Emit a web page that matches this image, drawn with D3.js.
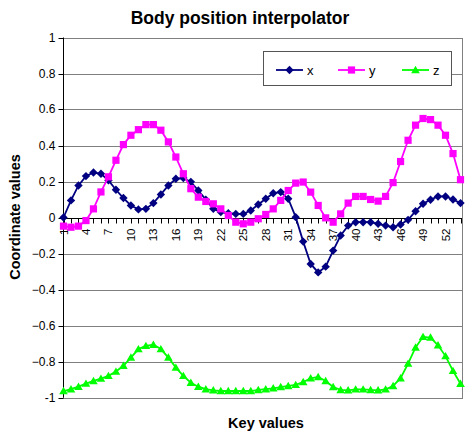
<!DOCTYPE html>
<html><head><meta charset="utf-8">
<script src="https://cdn.jsdelivr.net/npm/d3@7"></script>
<style>
html,body{margin:0;padding:0;background:#fff;}
svg{display:block;font-family:"Liberation Sans",Arial,sans-serif;}
</style></head>
<body><svg id="c" width="474" height="438"></svg>
<script>
const keys = [1,2,3,4,5,6,7,8,9,10,11,12,13,14,15,16,17,18,19,20,21,22,23,24,25,26,27,
  28,29,30,31,32,33,34,35,36,37,38,39,40,41,42,43,44,45,46,47,48,49,50,51,52,53,54];
const tickLabels = [1,4,7,10,13,16,19,22,25,28,31,34,37,40,43,46,49,52];
const yTicks = [1,0.8,0.6,0.4,0.2,0,-0.2,-0.4,-0.6,-0.8,-1];
const xVals = [0,0.095,0.178,0.23,0.25,0.243,0.206,0.154,0.108,0.067,0.045,0.048,0.08,0.128,
  0.178,0.215,0.219,0.198,0.15,0.099,0.048,0.03,0.024,0.02,0.02,0.039,0.072,0.104,0.135,0.141,
  0.104,0.002,-0.134,-0.258,-0.305,-0.273,-0.184,-0.1,-0.045,-0.026,-0.026,-0.026,-0.035,-0.045,
  -0.054,-0.039,-0.013,0.035,0.076,0.099,0.117,0.117,0.1,0.08];
const yVals = [-0.048,-0.054,-0.048,-0.017,0.048,0.142,0.226,0.318,0.405,0.457,0.488,0.516,0.516,
  0.485,0.42,0.336,0.243,0.16,0.113,0.089,0.076,0.048,0.011,-0.026,-0.035,-0.026,-0.007,0.017,
  0.048,0.095,0.15,0.191,0.197,0.141,0.067,-0.002,-0.026,0.02,0.08,0.117,0.117,0.1,0.091,0.117,
  0.194,0.311,0.429,0.513,0.55,0.544,0.513,0.457,0.355,0.21];
const zVals = [-0.964,-0.954,-0.94,-0.923,-0.908,-0.895,-0.88,-0.856,-0.824,-0.778,-0.731,-0.713,
  -0.707,-0.731,-0.778,-0.834,-0.88,-0.918,-0.94,-0.954,-0.96,-0.964,-0.964,-0.964,-0.964,-0.964,
  -0.958,-0.954,-0.949,-0.942,-0.936,-0.93,-0.914,-0.893,-0.886,-0.908,-0.942,-0.958,-0.96,-0.955,
  -0.955,-0.958,-0.96,-0.955,-0.936,-0.893,-0.812,-0.722,-0.663,-0.667,-0.71,-0.77,-0.852,-0.924];
const seriesNames = ["x","y","z"];
const seriesColors = ["#000080","#ff00ff","#00ff00"];

const svg = d3.select("#c");
const L = 63, R = 462, T = 37.5, B = 397.5;
const x = d3.scaleLinear().domain([1,54]).range([63.5,460.5]);
const y = d3.scaleLinear().domain([-1,1]).range([B,T]);

// gridlines
svg.append("g").selectAll("line").data(yTicks.filter(v=>v!==0)).join("line")
  .attr("x1",L).attr("x2",R).attr("y1",d=>Math.round(y(d))+0.5).attr("y2",d=>Math.round(y(d))+0.5)
  .attr("stroke","#808080").attr("stroke-width",1);
// frame right/top/bottom
svg.append("rect").attr("x",L+0.5).attr("y",Math.round(T)+0.5).attr("width",R-L)
  .attr("height",Math.round(B)-Math.round(T)).attr("fill","none").attr("stroke","#808080");

// y axis
const yAxis = d3.axisLeft(y).tickValues(yTicks).tickSize(5).tickPadding(3)
  .tickFormat(d=>d===0?"0":(d===1||d===-1)?String(d):d3.format(".1f")(d));
const gy = svg.append("g").attr("transform",`translate(${L+0.5},0)`).call(yAxis);
gy.selectAll("path").attr("stroke","#000").attr("d",`M0,${y(1)}V${y(-1)}`);
gy.selectAll("line").attr("stroke","#000");
gy.selectAll("text").attr("font-size",12).attr("fill","#000")
  .attr("font-family","Liberation Sans, Arial, sans-serif");
gy.selectAll(".tick").attr("transform",d=>`translate(0,${Math.round(y(d))+0.5})`);

// x axis at y=0
const gx = svg.append("g").attr("transform",`translate(0,${Math.round(y(0))+0.5})`);
gx.append("line").attr("x1",L).attr("x2",R).attr("stroke","#000");
gx.selectAll("line.t").data(keys).join("line").attr("class","t")
  .attr("x1",d=>Math.round(x(d))+0.5).attr("x2",d=>Math.round(x(d))+0.5)
  .attr("y1",0).attr("y2",5).attr("stroke","#000");
gx.selectAll("text").data(tickLabels).join("text")
  .attr("transform",d=>`translate(${x(d)+4},10) rotate(-90)`)
  .attr("text-anchor","end").attr("font-size",11.5).attr("fill","#000").text(d=>d);

// series
const allVals = [xVals,yVals,zVals];
const line = d3.line().x((d,i)=>x(keys[i])).y(d=>y(d));
const shapes = [
  "M0,-4.2L4.2,0L0,4.2L-4.2,0Z",
  "M-3.6,-3.6H3.6V3.6H-3.6Z",
  "M0,-4.2L4.3,3.2H-4.3Z"
];
allVals.forEach((vals,s)=>{
  const g = svg.append("g");
  g.append("path").datum(vals).attr("d",line).attr("fill","none")
    .attr("stroke",seriesColors[s]).attr("stroke-width",1.8);
  g.selectAll("path.m").data(vals).join("path").attr("class","m")
    .attr("d",shapes[s]).attr("transform",(d,i)=>`translate(${x(keys[i])},${y(d)})`)
    .attr("fill",seriesColors[s]);
});

// legend
const lg = svg.append("g");
lg.append("rect").attr("x",263.5).attr("y",51.5).attr("width",188).attr("height",34)
  .attr("fill","#fff").attr("stroke","#555");
const legX = [276,338,402];
seriesNames.forEach((n,s)=>{
  const g = lg.append("g").attr("transform",`translate(${legX[s]},70)`);
  g.append("line").attr("x1",0).attr("x2",27).attr("stroke",seriesColors[s]).attr("stroke-width",1.8);
  g.append("path").attr("d",shapes[s]).attr("transform","translate(13.5,0)").attr("fill",seriesColors[s]);
  g.append("text").attr("x",31).attr("y",4.5).attr("font-size",13).attr("fill","#000").text(n);
});

// titles
svg.append("text").attr("x",240).attr("y",24).attr("text-anchor","middle")
  .attr("font-size",17.5).attr("font-weight","bold").text("Body position interpolator");
svg.append("text").attr("x",266).attr("y",428).attr("text-anchor","middle")
  .attr("font-size",14.5).attr("font-weight","bold").text("Key values");
svg.append("text").attr("transform","translate(20,217) rotate(-90)").attr("text-anchor","middle")
  .attr("font-size",14.5).attr("font-weight","bold").text("Coordinate values");
</script></body></html>
